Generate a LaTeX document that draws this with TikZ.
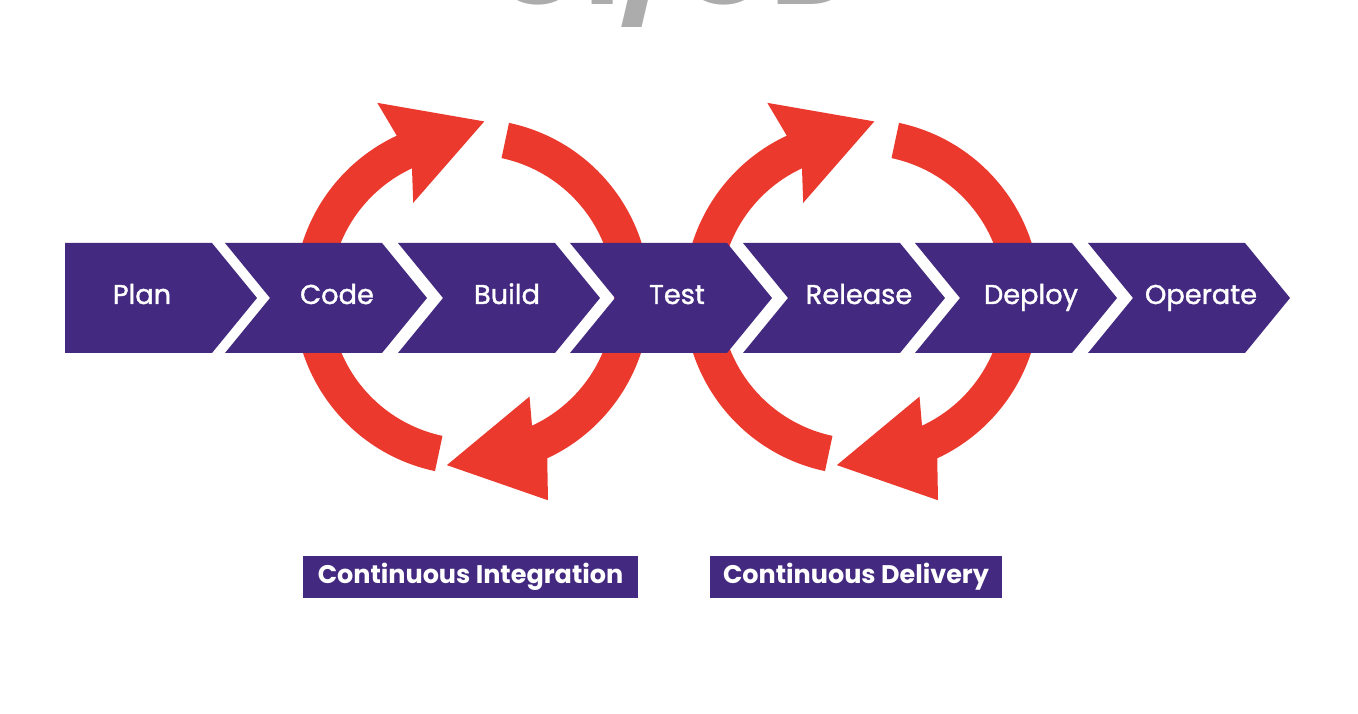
\documentclass[tikz,border=0pt]{standalone}
\usepackage{fontspec}
\setmainfont{Poppins}
\newfontfamily\stagefont{Poppins}[FakeBold=1.3]
\definecolor{chevpurple}{RGB}{67,41,128}
\definecolor{loopred}{RGB}{235,58,45}
\definecolor{titlegray}{RGB}{172,172,172}

\begin{document}
\begin{tikzpicture}[x=0.02cm, y=0.02cm,
    chev/.style={fill=chevpurple},
    looparrow/.style={fill=loopred},
    stage/.style={text=white, font=\stagefont\fontsize{15.5}{18}\selectfont, anchor=base},
    tag/.style={fill=chevpurple, text=white, font=\bfseries\fontsize{14.5}{17}\selectfont, minimum height=0.84cm, inner sep=0pt}]
    \clip (0,0) rectangle (1358,713);
    \fill[white] (0,0) rectangle (1358,713);
    % Title, mostly cut off at the top.
        \node[font=\bfseries\fontsize{70}{80}\selectfont, text=titlegray, anchor=base] (title) at (675,708) {CI/CD};
    % The two loops go first, the chevrons sit on top of them.
    \begin{scope}[shift={(472,416)}]
        % upper arrow
        \fill[looparrow] (258:178) arc[start angle=258, end angle=115, radius=178] -- (116:216) -- (86:176) -- (122:111) -- (115:142) arc[start angle=115, end angle=258, radius=142] -- cycle;
        % lower arrow
        \fill[looparrow] (78:178) arc[start angle=78, end angle=-65, radius=178] -- (-69.5:217) -- (-98.5:170) -- (-60:115) -- (-65:142) arc[start angle=-65, end angle=78, radius=142] -- cycle;
    \end{scope}
    \begin{scope}[shift={(862,416)}]
        % upper arrow
        \fill[looparrow] (258:178) arc[start angle=258, end angle=115, radius=178] -- (116:216) -- (86:176) -- (122:111) -- (115:142) arc[start angle=115, end angle=258, radius=142] -- cycle;
        % lower arrow
        \fill[looparrow] (78:178) arc[start angle=78, end angle=-65, radius=178] -- (-69.5:217) -- (-98.5:170) -- (-60:115) -- (-65:142) arc[start angle=-65, end angle=78, radius=142] -- cycle;
    \end{scope}
    % The row of chevrons.
        \fill[chev] (65,470) -- (212,470) -- (257,415) -- (212,360) -- (65,360) -- cycle;
        \fill[chev] (225,470) -- (382,470) -- (427,415) -- (382,360) -- (225,360) -- (270,415) -- cycle;
        \fill[chev] (398,470) -- (555,470) -- (600,415) -- (555,360) -- (398,360) -- (443,415) -- cycle;
        \fill[chev] (570,470) -- (727,470) -- (772,415) -- (727,360) -- (570,360) -- (615,415) -- cycle;
        \fill[chev] (743,470) -- (900,470) -- (945,415) -- (900,360) -- (743,360) -- (788,415) -- cycle;
        \fill[chev] (915,470) -- (1072,470) -- (1117,415) -- (1072,360) -- (915,360) -- (960,415) -- cycle;
        \fill[chev] (1088,470) -- (1245,470) -- (1290,415) -- (1245,360) -- (1088,360) -- (1133,415) -- cycle;
    % Below nodes are the stage labels.
        \node[stage] (plan) at (142,409) {Plan};
        \node[stage] (code) at (337,409) {Code};
        \node[stage] (build) at (507,409) {Build};
        \node[stage] (test) at (677,409) {Test};
        \node[stage] (release) at (859,409) {Release};
        \node[stage] (deploy) at (1031,409) {Deploy};
        \node[stage] (operate) at (1201,409) {Operate};
    % The two tags under the loops.
        \node[tag, minimum width=6.7cm] (ci) at (470.5,136) {Continuous Integration};
        \node[tag, minimum width=5.84cm] (cd) at (856,136) {Continuous Delivery};
\end{tikzpicture}
\end{document}
